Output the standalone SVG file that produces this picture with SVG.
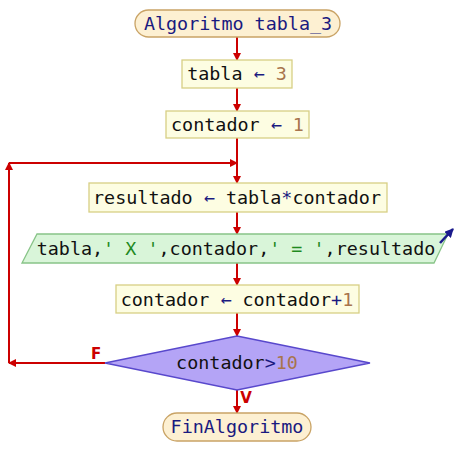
<svg xmlns="http://www.w3.org/2000/svg" width="474" height="473" viewBox="0 0 474 473">
<defs>
<marker id="ah" markerWidth="8" markerHeight="8" refX="7" refY="4" orient="auto" markerUnits="userSpaceOnUse">
<path d="M0,0 L8,4 L0,8 Z" fill="#cc0000"/>
</marker>
<marker id="bh" markerWidth="9" markerHeight="9" refX="8" refY="4.5" orient="auto" markerUnits="userSpaceOnUse">
<path d="M0,0 L9,4.5 L0,9 Z" fill="#1a1a8c"/>
</marker>
</defs>
<style>
text{font-family:"DejaVu Sans Mono","Liberation Mono",monospace;font-size:18.4px;text-anchor:middle;fill:#111}
.term{fill:#fdf0d2;stroke:#c9a365;stroke-width:1.3}
.proc{fill:#fdfde2;stroke:#d8cf84;stroke-width:1.3}
.io{fill:#d9f5d9;stroke:#88c488;stroke-width:1.3}
.dec{fill:#b4a4f6;stroke:#5848cc;stroke-width:1.3}
.kw{fill:#1a1a80}
.op{fill:#1a1a80}
.num{fill:#a8744c}
.str{fill:#1f8a1f}
.lbl{font-family:"DejaVu Sans","Liberation Sans",sans-serif;font-size:15px;font-weight:bold;fill:#cc0000}
.c{stroke:#cc0000;stroke-width:2;fill:none}
</style>
<g id="connectors">
<line class="c" x1="237" y1="37" x2="237" y2="60" marker-end="url(#ah)"/>
<line class="c" x1="237" y1="88" x2="237" y2="111" marker-end="url(#ah)"/>
<line class="c" x1="237" y1="138" x2="237" y2="183" marker-end="url(#ah)"/>
<line class="c" x1="237" y1="212" x2="237" y2="234" marker-end="url(#ah)"/>
<line class="c" x1="237" y1="263" x2="237" y2="285" marker-end="url(#ah)"/>
<line class="c" x1="237" y1="313" x2="237" y2="336" marker-end="url(#ah)"/>
<line class="c" x1="237" y1="390" x2="237" y2="413" marker-end="url(#ah)"/>
<line class="c" x1="105" y1="363" x2="9" y2="363" marker-end="url(#ah)"/>
<line class="c" x1="9" y1="363" x2="9" y2="163" marker-end="url(#ah)"/>
<line class="c" x1="9" y1="163" x2="237" y2="163" marker-end="url(#ah)"/>
<text class="lbl" x="96" y="359">F</text>
<text class="lbl" x="246" y="403">V</text>
</g>
<g id="start">
<rect class="term" x="135" y="10" width="205" height="27" rx="13.5"/>
<text x="238" y="30" class="kw">Algoritmo tabla_3</text>
</g>
<g id="assign1">
<rect class="proc" x="182" y="60" width="110" height="28"/>
<text x="237" y="80">tabla <tspan class="op">←</tspan> <tspan class="num">3</tspan></text>
</g>
<g id="assign2">
<rect class="proc" x="166" y="111" width="143" height="27"/>
<text x="237.5" y="131">contador <tspan class="op">←</tspan> <tspan class="num">1</tspan></text>
</g>
<g id="assign3">
<rect class="proc" x="89" y="183" width="298" height="29"/>
<text x="237" y="204">resultado <tspan class="op">←</tspan> tabla<tspan class="op">*</tspan>contador</text>
</g>
<g id="output">
<polygon class="io" points="37,234 448,234 434,263 22,263"/>
<text x="236" y="255">tabla,<tspan class="str">' X '</tspan>,contador,<tspan class="str">' = '</tspan>,resultado</text>
<line x1="440" y1="243" x2="453" y2="229" stroke="#1a1a8c" stroke-width="2.5" marker-end="url(#bh)"/>
</g>
<g id="assign4">
<rect class="proc" x="116" y="285" width="243" height="28"/>
<text x="237" y="306">contador <tspan class="op">←</tspan> contador<tspan class="op">+</tspan><tspan class="num">1</tspan></text>
</g>
<g id="decision">
<polygon class="dec" points="237,336 370,363 237,390 105,363"/>
<text x="237" y="369">contador<tspan class="op">&gt;</tspan><tspan class="num">10</tspan></text>
</g>
<g id="end">
<rect class="term" x="163" y="413" width="148" height="28" rx="14"/>
<text x="237" y="433" class="kw">FinAlgoritmo</text>
</g>
</svg>
